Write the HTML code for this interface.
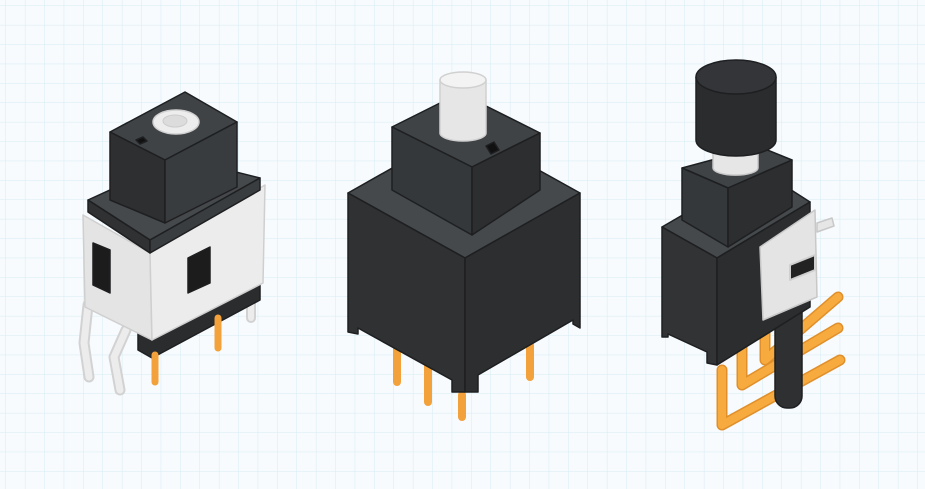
<!DOCTYPE html>
<html><head><style>
html,body{margin:0;padding:0;width:925px;height:489px;overflow:hidden;background:#f7fbfd;}
svg{display:block}
</style></head><body>
<svg width="925" height="489" viewBox="0 0 925 489" xmlns="http://www.w3.org/2000/svg">
<defs>
<pattern id="g" width="19.4" height="19.4" patternUnits="userSpaceOnUse" x="6" y="6">
<path d="M19.4 0V19.4H0" fill="none" stroke="#d6ebf3" stroke-width="1"/>
</pattern>
</defs>
<rect width="925" height="489" fill="#f7fbfd"/>
<rect width="925" height="489" fill="url(#g)"/>

<g stroke="#1e1f21" stroke-width="1.5" stroke-linejoin="round">
<!-- Switch 1 -->
<path d="M88 305 L84 343 L89 377 M126 330 L114 357 L120 390" stroke="#d2d2d2" stroke-width="11" fill="none" stroke-linecap="round"/>
<path d="M88 305 L84 343 L89 377 M126 330 L114 357 L120 390" stroke="#ececec" stroke-width="7" fill="none" stroke-linecap="round"/>
<path d="M251 290 L251 318" stroke="#d2d2d2" stroke-width="10" stroke-linecap="round"/>
<path d="M251 290 L251 318" stroke="#ececec" stroke-width="6" stroke-linecap="round"/>
<polygon points="138,330 152,338 260,285 260,300 152,358 138,350" fill="#2b2c2e"/>
<path d="M155 355 L155 382 M218 318 L218 348" stroke="#f3a13a" stroke-width="7" stroke-linecap="round"/>
<polygon points="83,215 150,253 152,340 85,307" fill="#e4e4e4" stroke="#cfcfcf"/>
<polygon points="150,253 265,185 263,283 152,340" fill="#ececec" stroke="#cfcfcf"/>
<polygon points="93,243 110,250 110,293 93,285" fill="#1c1c1c"/>
<polygon points="188,258 210,247 210,283 188,293" fill="#1c1c1c"/>
<polygon points="88,200 180,158 260,178 150,240" fill="#45494c"/>
<polygon points="88,200 150,240 150,253 88,212" fill="#2f3133"/>
<polygon points="150,240 260,178 260,190 150,253" fill="#3a3d40"/>
<polygon points="110,132 185,92 237,122 165,160" fill="#3f4346"/>
<polygon points="110,132 165,160 165,223 110,200" fill="#2d2f31"/>
<polygon points="165,160 237,122 237,187 165,223" fill="#393c3f"/>
<ellipse cx="176" cy="122" rx="23" ry="12" fill="#ededed" stroke="#d0d0d0"/>
<ellipse cx="175" cy="121" rx="12" ry="6" fill="#dcdcdc" stroke="#cccccc" stroke-width="1"/>
<polygon points="136,140 143,137 147,141 140,144" fill="#111"/>

<!-- Switch 2 -->
<path d="M397 342 L397 382 M428 362 L428 402 M462 395 L462 417 M530 345 L530 377" stroke="#f3a13a" stroke-width="8" stroke-linecap="round"/>
<polygon points="348,193 463,128 580,193 465,258" fill="#45494c"/>
<polygon points="348,193 465,258 465,392 452,392 452,380 358,328 358,334 348,332" fill="#2f3133"/>
<polygon points="465,258 580,193 580,328 573,324 573,320 478,375 478,392 465,392" fill="#2c2e30"/>
<polygon points="392,127 460,93 540,133 472,167" fill="#3f4346"/>
<polygon points="392,127 472,167 472,235 392,190" fill="#35383b"/>
<polygon points="472,167 540,133 540,190 472,235" fill="#2c2e30"/>
<path d="M440 80 L440 133 A23 8 0 0 0 486 133 L486 80 Z" fill="#e6e6e6" stroke="#d0d0d0"/>
<ellipse cx="463" cy="80" rx="23" ry="8" fill="#f3f3f3" stroke="#d0d0d0"/>
<polygon points="486,146 494,142 499,150 491,154" fill="#111"/>

<!-- Switch 3 -->
<g fill="none" stroke-linecap="round" stroke-linejoin="round">
<path d="M722 370 L722 425 L840 360 M742 345 L742 385 L838 328 M765 330 L765 360 L838 297" stroke="#e08f2a" stroke-width="11"/>
<path d="M722 370 L722 425 L840 360 M742 345 L742 385 L838 328 M765 330 L765 360 L838 297" stroke="#f7ab3e" stroke-width="8"/>
</g>
<rect x="775" y="300" width="27" height="108" rx="12" fill="#2e3032"/>
<polygon points="662,227 760,170 810,202 717,258" fill="#45494c"/>
<polygon points="662,227 717,258 717,365 707,363 707,352 668,334 668,337 662,337" fill="#313335"/>
<polygon points="717,258 810,202 810,307 717,365" fill="#2b2d2f"/>
<polygon points="817,223 832,218 834,226 817,232" fill="#e6e6e6" stroke="#c8c8c8"/>
<polygon points="760,247 815,210 817,297 763,320" fill="#e4e4e4" stroke="#c8c8c8"/>
<polygon points="790,265 815,255 815,270 790,280" fill="#222" stroke="#cfcfcf" stroke-width="2"/>
<polygon points="682,168 760,147 792,160 728,188" fill="#3f4346"/>
<polygon points="682,168 728,188 728,247 682,220" fill="#35383b"/>
<polygon points="728,188 792,160 792,207 728,247" fill="#2c2e30"/>
<path d="M713 150 L713 168 A22 7 0 0 0 758 168 L758 150 Z" fill="#e6e6e6" stroke="#c8c8c8"/>
<path d="M696 77 L696 140 A40 16 0 0 0 776 140 L776 77 Z" fill="#2a2c2e"/>
<ellipse cx="736" cy="77" rx="40" ry="17" fill="#333538"/>
</g>
</svg>
</body></html>
